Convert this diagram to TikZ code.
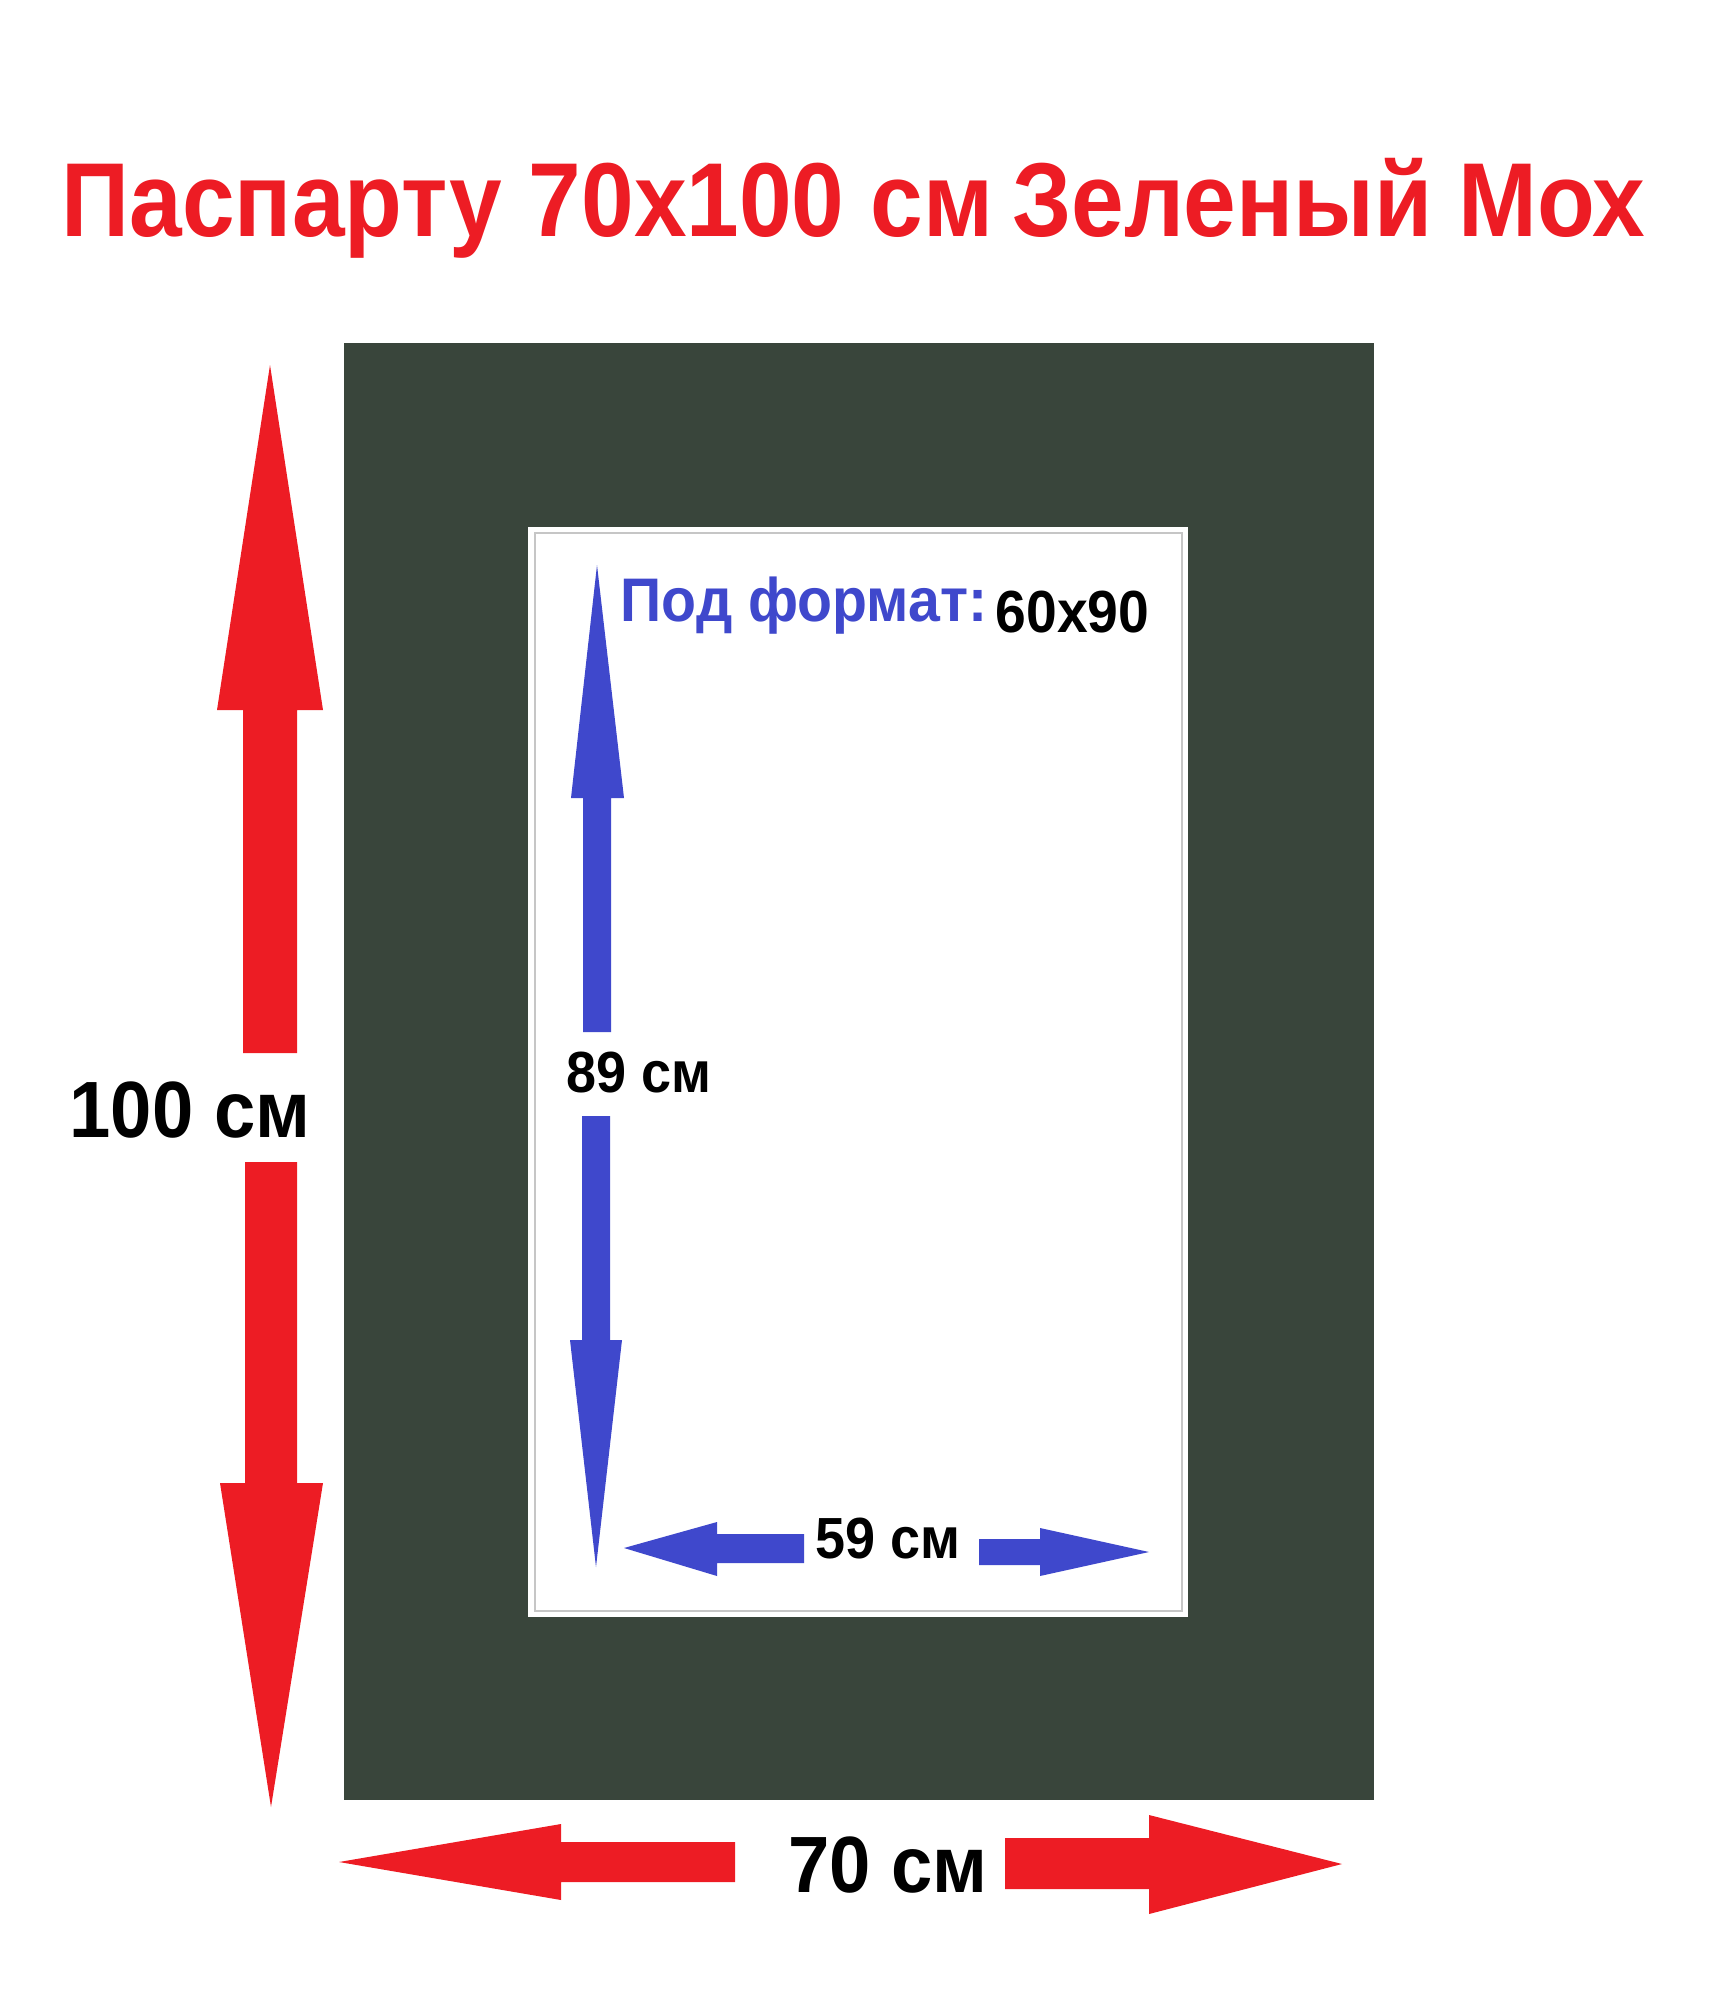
\documentclass[tikz,border=0pt]{standalone}
\usepackage{fontspec}
\setmainfont[FakeStretch=0.93]{Liberation Sans}
\newfontfamily\titlefont[FakeStretch=0.9]{Liberation Sans}
\usetikzlibrary{positioning}

\definecolor{matgreen}{RGB}{57,69,59}
\definecolor{dimred}{RGB}{237,28,36}
\definecolor{dimblue}{RGB}{63,72,204}

\tikzset{
   label/.style={inner sep=0pt, font=\bfseries},
   big/.style={font=\bfseries\fontsize{22.7}{26}\selectfont},
   small/.style={font=\bfseries\fontsize{16.5}{19}\selectfont},
   headline/.style={inner sep=0pt, anchor=base west, text=dimred,
      font=\titlefont\bfseries\fontsize{29.9}{34}\selectfont}
}

\begin{document}
\begin{tikzpicture}[x=0.01cm, y=-0.01cm]
   \useasboundingbox (0,0) rectangle (1734,2000);
   % mat and window
   \fill[matgreen] (344,343) rectangle (1374,1800);
   \fill[white] (528,527) rectangle (1188,1617);
   \draw[gray!45, line width=0.5pt] (535,533) rectangle (1182,1611);
   % title
   \node (title) at (61,237) [headline] {Паспарту 70x100 см};
   \node (titleb) at (1012,237) [headline] {Зеленый Мох};
   % outer size
   \node (h100) at (190,1137) [label, big, anchor=base] {100 см};
   \node (w70) at (888,1892) [label, big, anchor=base] {70 см};
   \fill[dimred] (270,365) -- (323,710) -- (297,710) -- (297,1053) -- (243,1053) -- (243,710) -- (217,710) -- cycle;
   \fill[dimred] (271,1807) -- (323,1483) -- (297,1483) -- (297,1162) -- (245,1162) -- (245,1483) -- (220,1483) -- cycle;
   \fill[dimred] (339,1862) -- (561,1824) -- (561,1842) -- (735,1842) -- (735,1882) -- (561,1882) -- (561,1900) -- cycle;
   \fill[dimred] (1342,1864) -- (1149,1815) -- (1149,1838) -- (1005,1838) -- (1005,1889) -- (1149,1889) -- (1149,1914) -- cycle;
   % window size
   \node (fmt) at (620,621) [label, anchor=base west, text=dimblue,
      font=\bfseries\fontsize{17.5}{21}\selectfont] {Под формат:};
   \node (fmtval) at (995,632) [label, anchor=base west,
      font=\bfseries\fontsize{16.9}{20}\selectfont] {60x90};
   \node (h89) at (639,1092) [label, small, anchor=base] {89 см};
   \node (w59) at (888,1558) [label, small, anchor=base] {59 см};
   \fill[dimblue] (597,565) -- (624,798) -- (611,798) -- (611,1032) -- (583,1032) -- (583,798) -- (571,798) -- cycle;
   \fill[dimblue] (596,1567) -- (622,1340) -- (610,1340) -- (610,1116) -- (582,1116) -- (582,1340) -- (570,1340) -- cycle;
   \fill[dimblue] (624,1548) -- (717,1522) -- (717,1534) -- (804,1534) -- (804,1563) -- (717,1563) -- (717,1576) -- cycle;
   \fill[dimblue] (1149,1552) -- (1040,1528) -- (1040,1539) -- (979,1539) -- (979,1565) -- (1040,1565) -- (1040,1576) -- cycle;
\end{tikzpicture}
\end{document}
